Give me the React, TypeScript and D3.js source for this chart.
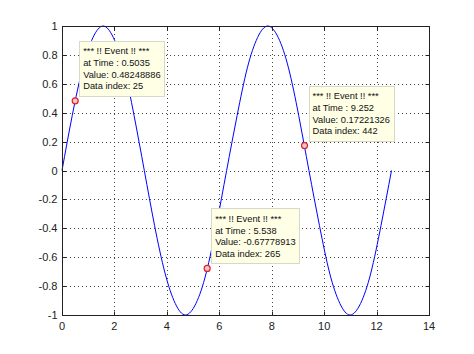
import { useRef, useEffect } from "react"
import * as d3 from "d3"

// sine curve
const times = [
  0, 0.39, 0.79, 1.18, 1.57, 1.96, 2.36, 2.75, 3.14, 3.53, 3.93, 4.32, 4.71, 5.11, 5.5, 5.89, 6.28,
  6.68, 7.07, 7.46, 7.85, 8.25, 8.64, 9.03, 9.42, 9.82, 10.21, 10.6, 10.99, 11.39, 11.78, 12.17, 12.57,
]
const values = [
  0, 0.38, 0.71, 0.92, 1, 0.92, 0.71, 0.38, 0, -0.38, -0.71, -0.92, -1, -0.92, -0.71, -0.38, 0,
  0.38, 0.71, 0.92, 1, 0.92, 0.71, 0.38, 0, -0.38, -0.71, -0.92, -1, -0.92, -0.71, -0.38, 0,
]

// data tips
const eventTimes = ["0.5035", "5.538", "9.252"]
const eventValues = ["0.48248886", "-0.67778913", "0.17221326"]
const eventIndices = [25, 265, 442]

const xTicks = [0, 2, 4, 6, 8, 10, 12, 14]
const yTicks = [-1, -0.8, -0.6, -0.4, -0.2, 0, 0.2, 0.4, 0.6, 0.8, 1]

export default function App() {
  const svgRef = useRef<SVGSVGElement>(null)

  useEffect(() => {
    if (!svgRef.current) return
    const svg = d3.select(svgRef.current)
    svg.selectAll("*").remove()

    const width = 474
    const height = 354
    const margin = { top: 26, right: 45, bottom: 39, left: 62 }
    const x = d3.scaleLinear().domain([0, 14]).range([margin.left, width - margin.right])
    const y = d3.scaleLinear().domain([-1, 1]).range([height - margin.bottom, margin.top])
    const font = "'Liberation Sans', Arial, sans-serif"

    svg.append("rect").attr("width", width).attr("height", height).attr("fill", "white")

    // grid
    const grid = svg.append("g").attr("stroke", "#444").attr("stroke-width", 1).attr("stroke-dasharray", "1,3")
    xTicks.slice(1, -1).forEach((t) => {
      grid.append("line").attr("x1", Math.round(x(t)) + 0.5).attr("x2", Math.round(x(t)) + 0.5)
        .attr("y1", y(1)).attr("y2", y(-1))
    })
    yTicks.slice(1, -1).forEach((t) => {
      grid.append("line").attr("y1", Math.round(y(t)) + 0.5).attr("y2", Math.round(y(t)) + 0.5)
        .attr("x1", x(0)).attr("x2", x(14))
    })

    // curve
    const line = d3
      .line<number>()
      .x((_, i) => x(times[i]))
      .y((d) => y(d))
      .curve(d3.curveNatural)
    svg.append("path").datum(values).attr("d", line).attr("fill", "none").attr("stroke", "#0000ff").attr("stroke-width", 1)

    // axes box with inward ticks
    const x0 = Math.round(x(0)) + 0.5
    const x1 = Math.round(x(14)) + 0.5
    const y0 = Math.round(y(-1)) + 0.5
    const y1 = Math.round(y(1)) + 0.5
    const axis = svg.append("g").attr("stroke", "#222").attr("stroke-width", 1).attr("fill", "none")
    axis.append("rect").attr("x", x0).attr("y", y1).attr("width", x1 - x0).attr("height", y0 - y1)
    const tl = 4
    xTicks.forEach((t) => {
      const px = Math.round(x(t)) + 0.5
      axis.append("line").attr("x1", px).attr("x2", px).attr("y1", y0).attr("y2", y0 - tl)
      axis.append("line").attr("x1", px).attr("x2", px).attr("y1", y1).attr("y2", y1 + tl)
    })
    yTicks.forEach((t) => {
      const py = Math.round(y(t)) + 0.5
      axis.append("line").attr("x1", x0).attr("x2", x0 + tl).attr("y1", py).attr("y2", py)
      axis.append("line").attr("x1", x1).attr("x2", x1 - tl).attr("y1", py).attr("y2", py)
    })

    // tick labels
    svg.append("g").selectAll("text").data(xTicks).join("text")
      .attr("x", (d) => x(d)).attr("y", y0 + 14)
      .attr("text-anchor", "middle").attr("font-family", font).attr("font-size", "11px").attr("fill", "#222")
      .text((d) => String(d))
    svg.append("g").selectAll("text").data(yTicks).join("text")
      .attr("x", x0 - 5).attr("y", (d) => y(d) + 4)
      .attr("text-anchor", "end").attr("font-family", font).attr("font-size", "11px").attr("fill", "#222")
      .text((d) => String(d))

    // data tips
    eventTimes.forEach((t, i) => {
      const mx = x(+t)
      const my = y(+eventValues[i])
      const lines = ["*** !! Event !! ***", `at Time : ${t}`, `Value: ${eventValues[i]}`, `Data index: ${eventIndices[i]}`]
      const g = svg.append("g")
      const box = g.append("rect")
      const texts = g.selectAll("text").data(lines).join("text")
        .attr("x", mx + 8).attr("y", (_, k) => my - 46.5 + k * 11.7)
        .attr("font-family", font).attr("font-size", "9.3px").attr("fill", "#111")
        .text((d) => d)
      let w = 0
      texts.each(function () {
        w = Math.max(w, (this as SVGTextElement).getComputedTextLength())
      })
      box.attr("x", Math.round(mx + 4) + 0.5).attr("y", Math.round(my - 60) + 0.5)
        .attr("width", Math.round(w + 8)).attr("height", 55)
        .attr("fill", "#ffffe6").attr("stroke", "#d8d8c8").attr("stroke-width", 1)
      g.append("circle").attr("cx", mx).attr("cy", my).attr("r", 3)
        .attr("fill", "#f8c8c8").attr("stroke", "#e0202a").attr("stroke-width", 1.2)
    })
  }, [])

  return (
    <div style={{ position: "fixed", left: 0, top: 0 }}>
      <svg ref={svgRef} width={474} height={354} style={{ display: "block" }} />
    </div>
  )
}
